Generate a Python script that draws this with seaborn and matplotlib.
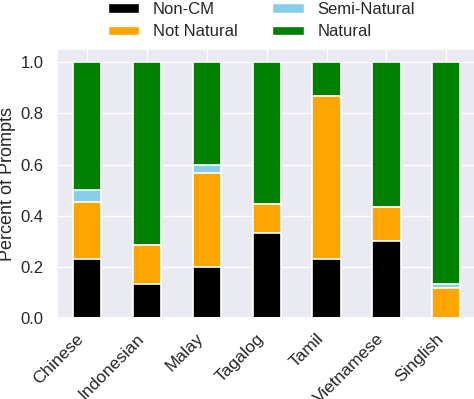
import matplotlib
matplotlib.use("Agg")
import matplotlib.pyplot as plt
import numpy as np
import pandas as pd
import seaborn as sns
from matplotlib.patches import Patch

# 언어별 프롬프트 비율
languages = ["Chinese", "Indonesian", "Malay", "Tagalog", "Tamil", "Vietnamese", "Singlish"]
non_cm = [0.233, 0.133, 0.200, 0.333, 0.233, 0.300, 0.0]
not_natural = [0.220, 0.153, 0.367, 0.112, 0.634, 0.133, 0.120]
semi_natural = [0.047, 0.0, 0.033, 0.0, 0.0, 0.0, 0.013]

category_names = ["Non-CM", "Not Natural", "Semi-Natural", "Natural"]
category_colors = ["black", "orange", "skyblue", "green"]

sns.set_theme(style="darkgrid", font_scale=1.0)
plt.rcParams["font.family"] = ["Liberation Sans", "DejaVu Sans"]

df = pd.DataFrame(
    {
        "Language": languages,
        "Non-CM": non_cm,
        "Not Natural": not_natural,
        "Semi-Natural": semi_natural,
    }
)
df["Natural"] = 1.0 - df["Non-CM"] - df["Not Natural"] - df["Semi-Natural"]

# 누적합을 위에서부터 겹쳐 그려 스택 막대를 만든다
cumulative = df[category_names].cumsum(axis=1)

fig = plt.figure(figsize=(4.74, 3.99), dpi=100)
ax = fig.add_axes([0.120, 0.202, 0.885, 0.675])

for name, color in reversed(list(zip(category_names, category_colors))):
    sns.barplot(
        x=df["Language"],
        y=cumulative[name],
        color=color,
        saturation=1,
        width=0.47,
        edgecolor="white",
        linewidth=1.2,
        ax=ax,
    )

ax.xaxis.grid(True)
ax.set_ylim(0, 1.05)
ax.set_xlim(-0.5, 6.5)
ax.set_yticks(np.arange(0, 1.01, 0.2))
ax.set_xlabel("")
ax.set_ylabel("Percent of Prompts", fontsize=13, labelpad=3)
ax.tick_params(axis="y", labelsize=12)
ax.tick_params(axis="x", labelsize=12.5, pad=3)
plt.setp(ax.get_xticklabels(), rotation=45, ha="right")

handles = [Patch(facecolor=c, label=n) for n, c in zip(category_names, category_colors)]
ax.legend(
    handles=handles,
    ncol=2,
    loc="lower center",
    bbox_to_anchor=(0.487, 1.005),
    frameon=False,
    fontsize=12,
    columnspacing=2.1,
    borderaxespad=0.1,
    handlelength=1.9,
    handleheight=0.5,
    handletextpad=0.8,
    labelspacing=0.45,
)

fig.savefig("out.png", dpi=100)
